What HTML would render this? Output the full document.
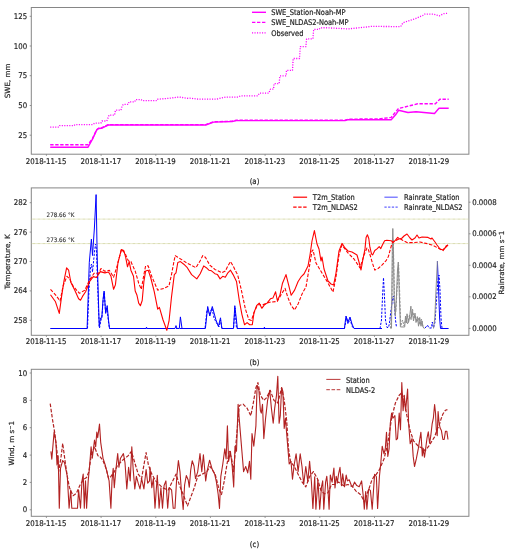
<!DOCTYPE html><html><head><meta charset="utf-8"><style>html,body{margin:0;padding:0;background:#fff;}svg{display:block;}</style></head><body>
<svg width="509" height="550" viewBox="0 0 509 550" style="font-family:'DejaVu Sans','Liberation Sans',sans-serif">
<rect width="509" height="550" fill="#fff"/>
<rect x="31.3" y="7.5" width="437.6" height="146.7" fill="none" stroke="#868686" stroke-width="1.0"/>
<line x1="46.4" y1="154.2" x2="46.4" y2="155.8" stroke="#868686" stroke-width="0.9"/>
<text transform="translate(46.10 163.70) scale(1 1.120)" font-size="7" text-anchor="middle" fill="#262626" stroke="#262626" stroke-width="0.18" >2018-11-15</text>
<line x1="101.1" y1="154.2" x2="101.1" y2="155.8" stroke="#868686" stroke-width="0.9"/>
<text transform="translate(100.78 163.70) scale(1 1.120)" font-size="7" text-anchor="middle" fill="#262626" stroke="#262626" stroke-width="0.18" >2018-11-17</text>
<line x1="155.8" y1="154.2" x2="155.8" y2="155.8" stroke="#868686" stroke-width="0.9"/>
<text transform="translate(155.46 163.70) scale(1 1.120)" font-size="7" text-anchor="middle" fill="#262626" stroke="#262626" stroke-width="0.18" >2018-11-19</text>
<line x1="210.4" y1="154.2" x2="210.4" y2="155.8" stroke="#868686" stroke-width="0.9"/>
<text transform="translate(210.14 163.70) scale(1 1.120)" font-size="7" text-anchor="middle" fill="#262626" stroke="#262626" stroke-width="0.18" >2018-11-21</text>
<line x1="265.1" y1="154.2" x2="265.1" y2="155.8" stroke="#868686" stroke-width="0.9"/>
<text transform="translate(264.82 163.70) scale(1 1.120)" font-size="7" text-anchor="middle" fill="#262626" stroke="#262626" stroke-width="0.18" >2018-11-23</text>
<line x1="319.8" y1="154.2" x2="319.8" y2="155.8" stroke="#868686" stroke-width="0.9"/>
<text transform="translate(319.50 163.70) scale(1 1.120)" font-size="7" text-anchor="middle" fill="#262626" stroke="#262626" stroke-width="0.18" >2018-11-25</text>
<line x1="374.5" y1="154.2" x2="374.5" y2="155.8" stroke="#868686" stroke-width="0.9"/>
<text transform="translate(374.18 163.70) scale(1 1.120)" font-size="7" text-anchor="middle" fill="#262626" stroke="#262626" stroke-width="0.18" >2018-11-27</text>
<line x1="429.2" y1="154.2" x2="429.2" y2="155.8" stroke="#868686" stroke-width="0.9"/>
<text transform="translate(428.86 163.70) scale(1 1.120)" font-size="7" text-anchor="middle" fill="#262626" stroke="#262626" stroke-width="0.18" >2018-11-29</text>
<line x1="29.7" y1="135.2" x2="31.3" y2="135.2" stroke="#868686" stroke-width="0.9"/>
<text transform="translate(27.10 137.70) scale(1 1.120)" font-size="7" text-anchor="end" fill="#262626" stroke="#262626" stroke-width="0.18" >25</text>
<line x1="29.7" y1="105.5" x2="31.3" y2="105.5" stroke="#868686" stroke-width="0.9"/>
<text transform="translate(27.10 107.97) scale(1 1.120)" font-size="7" text-anchor="end" fill="#262626" stroke="#262626" stroke-width="0.18" >50</text>
<line x1="29.7" y1="75.7" x2="31.3" y2="75.7" stroke="#868686" stroke-width="0.9"/>
<text transform="translate(27.10 78.25) scale(1 1.120)" font-size="7" text-anchor="end" fill="#262626" stroke="#262626" stroke-width="0.18" >75</text>
<line x1="29.7" y1="46.0" x2="31.3" y2="46.0" stroke="#868686" stroke-width="0.9"/>
<text transform="translate(27.10 48.52) scale(1 1.120)" font-size="7" text-anchor="end" fill="#262626" stroke="#262626" stroke-width="0.18" >100</text>
<line x1="29.7" y1="16.3" x2="31.3" y2="16.3" stroke="#868686" stroke-width="0.9"/>
<text transform="translate(27.10 18.80) scale(1 1.120)" font-size="7" text-anchor="end" fill="#262626" stroke="#262626" stroke-width="0.18" >125</text>
<text transform="translate(9.50 80.80) rotate(-90)" font-size="7.2" text-anchor="middle" fill="#262626" stroke="#262626" stroke-width="0.18">SWE, mm</text>
<polyline points="50.2,127.1 59.0,127.1 59.6,125.7 73.9,125.7 75.0,124.6 93.1,124.6 94.5,123.2 100.9,123.2 101.9,121.0 106.8,121.0 107.5,119.0 108.5,117.0 109.0,115.1 114.6,115.1 115.0,112.6 115.5,110.2 121.0,110.2 121.5,108.2 122.2,105.8 123.5,104.3 128.4,104.3 129.0,101.8 134.8,101.8 135.5,99.7 141.2,99.7 142.0,100.6 156.3,100.6 156.8,99.3 168.6,98.3 179.4,97.0 186.3,98.3 190.0,98.2 197.9,99.1 216.5,99.1 225.4,97.2 237.2,97.2 241.1,95.8 257.9,95.8 259.4,93.1 268.9,93.1 270.4,89.2 273.6,89.2 274.0,83.7 279.1,83.7 279.9,75.8 286.2,75.8 286.5,70.3 292.5,70.3 293.2,58.5 299.5,58.5 300.3,46.7 305.8,46.7 306.6,38.9 312.9,38.9 313.7,29.4 319.2,29.4 320.0,27.9 325.5,27.7 348.2,28.9 366.4,27.0 370.9,26.4 400.7,26.6 403.0,22.7 408.6,20.9 415.5,18.6 423.4,15.2 424.5,14.1 433.6,14.1 439.3,15.9 443.9,13.6 448.4,13.2" fill="none" stroke="#ff00ff" stroke-width="1.3" stroke-dasharray="1.1 1.4" stroke-linejoin="round" />
<polyline points="50.2,147.3 87.9,147.3 92.5,139.1 96.6,130.1 98.6,128.5 101.4,128.3 105.5,126.3 108.3,125.0 150.0,125.0 205.7,125.0 213.6,122.1 232.2,121.5 236.2,120.6 345.0,120.6 348.2,119.6 391.2,119.7 395.6,114.8 398.6,110.3 408.0,112.5 416.0,111.7 434.5,113.5 439.0,108.2 448.7,108.2" fill="none" stroke="#ff00ff" stroke-width="1.4" stroke-linejoin="round" />
<polyline points="50.2,144.8 87.9,144.8 92.5,138.5 96.6,129.8 98.6,128.2 101.4,128.0 105.5,126.0 108.3,124.6 150.0,124.6 205.7,124.6 213.6,121.8 232.2,121.2 236.2,120.2 345.0,120.2 348.2,119.2 380.6,118.8 391.2,117.4 398.3,108.6 417.7,103.8 435.4,103.8 439.8,99.2 448.7,99.2" fill="none" stroke="#ff00ff" stroke-width="1.4" stroke-dasharray="3.4 1.6" stroke-linejoin="round" />
<polyline points="252.0,12.3 266.0,12.3" fill="none" stroke="#ff00ff" stroke-width="1.4" stroke-linejoin="round" />
<text transform="translate(271.20 15.30) scale(1 1.170)" font-size="6.7" text-anchor="start" fill="#262626" stroke="#262626" stroke-width="0.18" >SWE_Station-Noah-MP</text>
<polyline points="252.0,22.4 266.0,22.4" fill="none" stroke="#ff00ff" stroke-width="1.4" stroke-dasharray="3.4 1.6" stroke-linejoin="round" />
<text transform="translate(271.20 25.45) scale(1 1.170)" font-size="6.7" text-anchor="start" fill="#262626" stroke="#262626" stroke-width="0.18" >SWE_NLDAS2-Noah-MP</text>
<polyline points="252.0,32.9 266.0,32.9" fill="none" stroke="#ff00ff" stroke-width="1.3" stroke-dasharray="1.1 1.4" stroke-linejoin="round" />
<text transform="translate(271.20 35.90) scale(1 1.170)" font-size="6.7" text-anchor="start" fill="#262626" stroke="#262626" stroke-width="0.18" >Observed</text>
<text transform="translate(254.50 183.70) scale(1 1.120)" font-size="7" text-anchor="middle" fill="#262626" stroke="#262626" stroke-width="0.18" >(a)</text>
<rect x="31.3" y="187.9" width="437.6" height="147.4" fill="none" stroke="#868686" stroke-width="1.0"/>
<line x1="46.4" y1="335.3" x2="46.4" y2="336.9" stroke="#868686" stroke-width="0.9"/>
<text transform="translate(46.10 344.40) scale(1 1.120)" font-size="7" text-anchor="middle" fill="#262626" stroke="#262626" stroke-width="0.18" >2018-11-15</text>
<line x1="101.1" y1="335.3" x2="101.1" y2="336.9" stroke="#868686" stroke-width="0.9"/>
<text transform="translate(100.78 344.40) scale(1 1.120)" font-size="7" text-anchor="middle" fill="#262626" stroke="#262626" stroke-width="0.18" >2018-11-17</text>
<line x1="155.8" y1="335.3" x2="155.8" y2="336.9" stroke="#868686" stroke-width="0.9"/>
<text transform="translate(155.46 344.40) scale(1 1.120)" font-size="7" text-anchor="middle" fill="#262626" stroke="#262626" stroke-width="0.18" >2018-11-19</text>
<line x1="210.4" y1="335.3" x2="210.4" y2="336.9" stroke="#868686" stroke-width="0.9"/>
<text transform="translate(210.14 344.40) scale(1 1.120)" font-size="7" text-anchor="middle" fill="#262626" stroke="#262626" stroke-width="0.18" >2018-11-21</text>
<line x1="265.1" y1="335.3" x2="265.1" y2="336.9" stroke="#868686" stroke-width="0.9"/>
<text transform="translate(264.82 344.40) scale(1 1.120)" font-size="7" text-anchor="middle" fill="#262626" stroke="#262626" stroke-width="0.18" >2018-11-23</text>
<line x1="319.8" y1="335.3" x2="319.8" y2="336.9" stroke="#868686" stroke-width="0.9"/>
<text transform="translate(319.50 344.40) scale(1 1.120)" font-size="7" text-anchor="middle" fill="#262626" stroke="#262626" stroke-width="0.18" >2018-11-25</text>
<line x1="374.5" y1="335.3" x2="374.5" y2="336.9" stroke="#868686" stroke-width="0.9"/>
<text transform="translate(374.18 344.40) scale(1 1.120)" font-size="7" text-anchor="middle" fill="#262626" stroke="#262626" stroke-width="0.18" >2018-11-27</text>
<line x1="429.2" y1="335.3" x2="429.2" y2="336.9" stroke="#868686" stroke-width="0.9"/>
<text transform="translate(428.86 344.40) scale(1 1.120)" font-size="7" text-anchor="middle" fill="#262626" stroke="#262626" stroke-width="0.18" >2018-11-29</text>
<line x1="29.7" y1="320.3" x2="31.3" y2="320.3" stroke="#868686" stroke-width="0.9"/>
<text transform="translate(27.10 322.80) scale(1 1.120)" font-size="7" text-anchor="end" fill="#262626" stroke="#262626" stroke-width="0.18" >258</text>
<line x1="29.7" y1="290.9" x2="31.3" y2="290.9" stroke="#868686" stroke-width="0.9"/>
<text transform="translate(27.10 293.40) scale(1 1.120)" font-size="7" text-anchor="end" fill="#262626" stroke="#262626" stroke-width="0.18" >264</text>
<line x1="29.7" y1="261.5" x2="31.3" y2="261.5" stroke="#868686" stroke-width="0.9"/>
<text transform="translate(27.10 264.00) scale(1 1.120)" font-size="7" text-anchor="end" fill="#262626" stroke="#262626" stroke-width="0.18" >270</text>
<line x1="29.7" y1="232.1" x2="31.3" y2="232.1" stroke="#868686" stroke-width="0.9"/>
<text transform="translate(27.10 234.60) scale(1 1.120)" font-size="7" text-anchor="end" fill="#262626" stroke="#262626" stroke-width="0.18" >276</text>
<line x1="29.7" y1="202.7" x2="31.3" y2="202.7" stroke="#868686" stroke-width="0.9"/>
<text transform="translate(27.10 205.20) scale(1 1.120)" font-size="7" text-anchor="end" fill="#262626" stroke="#262626" stroke-width="0.18" >282</text>
<line x1="468.9" y1="328.4" x2="470.5" y2="328.4" stroke="#868686" stroke-width="0.9"/>
<text transform="translate(472.20 330.90) scale(1 1.120)" font-size="7" text-anchor="start" fill="#262626" stroke="#262626" stroke-width="0.18" >0.0000</text>
<line x1="468.9" y1="296.8" x2="470.5" y2="296.8" stroke="#868686" stroke-width="0.9"/>
<text transform="translate(472.20 299.35) scale(1 1.120)" font-size="7" text-anchor="start" fill="#262626" stroke="#262626" stroke-width="0.18" >0.0002</text>
<line x1="468.9" y1="265.3" x2="470.5" y2="265.3" stroke="#868686" stroke-width="0.9"/>
<text transform="translate(472.20 267.80) scale(1 1.120)" font-size="7" text-anchor="start" fill="#262626" stroke="#262626" stroke-width="0.18" >0.0004</text>
<line x1="468.9" y1="233.8" x2="470.5" y2="233.8" stroke="#868686" stroke-width="0.9"/>
<text transform="translate(472.20 236.25) scale(1 1.120)" font-size="7" text-anchor="start" fill="#262626" stroke="#262626" stroke-width="0.18" >0.0006</text>
<line x1="468.9" y1="202.2" x2="470.5" y2="202.2" stroke="#868686" stroke-width="0.9"/>
<text transform="translate(472.20 204.70) scale(1 1.120)" font-size="7" text-anchor="start" fill="#262626" stroke="#262626" stroke-width="0.18" >0.0008</text>
<text transform="translate(9.50 261.80) rotate(-90)" font-size="7.2" text-anchor="middle" fill="#262626" stroke="#262626" stroke-width="0.18">Temperature, K</text>
<text transform="translate(504.4 262.7) rotate(-90)" font-size="7.2" text-anchor="middle" fill="#262626" stroke="#262626" stroke-width="0.18">Rainrate, mm s<tspan font-size="5" dy="-2.4">&#8722;</tspan><tspan font-size="7" dy="2.4">1</tspan></text>
<line x1="31.8" y1="219.1" x2="468.4" y2="219.1" stroke="#c8cc8c" stroke-width="1.0" stroke-dasharray="0.7 0.55"/>
<text transform="translate(46.6 217.17) scale(1 1.1)" font-size="5.6" fill="#262626" stroke="#262626" stroke-width="0.08">278.66 °K</text>
<line x1="31.8" y1="243.6" x2="468.4" y2="243.6" stroke="#c8cc8c" stroke-width="1.0" stroke-dasharray="0.7 0.55"/>
<text transform="translate(46.6 241.67) scale(1 1.1)" font-size="5.6" fill="#262626" stroke="#262626" stroke-width="0.08">273.66 °K</text>
<polyline points="50.5,328.5 87.1,328.5 89.3,262.3 91.4,239.1 92.5,255.5 94.4,228.0 96.1,194.6 97.3,262.0 98.7,308.9 99.2,326.4 100.5,318.0 101.8,318.0 103.0,300.0 104.1,291.0 105.7,313.4 107.2,305.6 108.3,318.0 109.5,328.5 146.0,328.5 146.5,327.2 147.0,328.5 175.0,328.5 176.0,325.6 177.0,328.5 179.3,328.5 180.4,316.9 182.0,328.5 205.4,328.5 207.7,306.5 209.8,316.0 212.3,306.5 215.8,319.5 218.4,326.4 220.5,317.8 221.8,328.5 233.5,328.5 234.8,305.7 237.4,328.5 264.0,328.5 264.4,327.2 265.0,328.5 344.4,328.5 346.0,316.0 348.0,322.0 350.0,317.0 352.0,324.0 354.0,328.5 382.0,328.5" fill="none" stroke="#0000ff" stroke-width="1.0" stroke-linejoin="round" />
<polyline points="437.4,261.2 438.6,290.0 439.6,318.0 440.5,328.5 448.6,328.5" fill="none" stroke="#0000ff" stroke-width="1.0" stroke-linejoin="round" />
<polyline points="50.5,328.5 87.5,328.5 89.0,290.0 90.5,268.0 91.5,264.0 92.5,272.0 93.5,262.0 94.5,252.0 95.5,244.0 96.5,250.0 97.3,275.0 98.5,310.0 99.5,328.0 101.0,320.0 102.0,316.0 103.5,296.0 104.3,292.0 105.5,312.0 107.0,308.0 108.5,322.0 109.5,328.5 180.0,328.5 205.0,328.5 207.0,310.0 209.5,314.0 212.0,308.0 214.0,318.0 216.0,322.0 219.0,327.0 220.5,320.0 222.0,328.5 233.5,328.5 235.0,308.0 236.5,328.5 344.5,328.5 346.5,318.0 348.0,324.0 350.0,319.0 352.0,326.0 353.5,328.5 380.0,328.5 381.5,320.0 382.6,295.0 383.5,277.7 384.4,295.0 385.5,320.0 387.0,327.5 388.6,327.5 389.6,322.0 390.8,311.8 392.7,297.6 393.5,296.0 394.5,305.0 395.5,320.0 396.5,327.5" fill="none" stroke="#0000ff" stroke-width="1.0" stroke-dasharray="2.3 1.4" stroke-linejoin="round" />
<polyline points="425.0,328.0 427.5,325.2 429.0,328.0 431.5,328.0 432.3,322.0 433.5,328.0 435.0,322.0 436.5,300.0 437.8,282.0 439.0,275.0 440.0,290.0 441.0,318.0 442.0,328.5 448.0,328.5" fill="none" stroke="#0000ff" stroke-width="1.0" stroke-dasharray="2.3 1.4" stroke-linejoin="round" />
<polyline points="391.5,328.5 392.3,250.0 392.8,228.5 393.4,250.0 394.2,300.0 395.3,316.0 396.5,295.0 397.5,270.0 398.3,262.0 399.0,285.0 400.4,326.9 404.7,327.0 405.5,316.0 406.3,323.0 407.0,313.8 408.5,322.5 409.5,318.0 410.9,306.2 411.5,317.5 412.5,311.6 413.5,321.0 415.0,313.1 416.0,322.5 417.5,316.7 418.5,326.2 419.7,317.5 421.0,326.2 422.0,321.0 423.0,326.9 424.1,328.5" fill="none" stroke="#8c8c8c" stroke-width="1.0" stroke-linejoin="round" />
<polyline points="433.5,328.5 434.8,318.0 436.0,290.0 437.4,261.2" fill="none" stroke="#8c8c8c" stroke-width="1.0" stroke-linejoin="round" />
<polyline points="390.5,328.5 392.0,300.0 392.6,240.0 393.3,240.0 394.5,300.0 395.8,312.0 397.0,290.0 398.6,265.0 399.6,290.0 400.7,326.0 402.5,320.0 404.0,326.0 406.0,318.0 407.5,324.0 409.5,315.0 411.0,320.0 412.5,309.0 414.0,318.0 415.5,316.0 417.0,322.0 418.5,318.0 420.0,325.0 421.5,319.0 423.0,327.0 424.5,328.5" fill="none" stroke="#8c8c8c" stroke-width="1.0" stroke-dasharray="2.3 1.4" stroke-linejoin="round" />
<polyline points="50.5,294.8 55.5,301.8 59.3,313.4 61.6,296.4 64.0,280.9 66.6,267.8 68.6,270.1 70.9,282.5 74.8,290.2 78.6,298.7 80.5,300.2 82.5,296.4 85.6,291.7 89.5,281.7 93.3,276.6 96.4,277.5 100.3,271.6 104.9,272.9 108.5,272.0 111.0,276.3 113.6,289.3 115.4,284.9 118.0,262.5 121.4,249.5 123.7,250.4 125.7,257.3 127.5,266.8 129.2,261.6 130.9,270.2 133.5,276.3 135.2,291.0 137.0,295.3 138.7,303.1 140.4,305.7 142.2,300.5 143.9,281.5 145.6,271.1 148.2,270.2 150.8,278.0 154.3,291.8 157.7,309.1 159.4,307.4 162.9,319.5 166.8,330.3 169.0,321.2 171.5,297.0 174.3,274.6 176.0,272.8 177.8,262.5 180.4,261.6 183.8,264.2 187.3,267.7 191.6,274.6 196.8,278.9 200.2,273.7 203.7,265.9 206.3,267.7 208.9,270.2 211.5,270.8 214.9,273.7 217.5,274.6 220.1,278.9 222.7,276.3 225.3,277.2 227.9,272.8 230.5,270.2 233.1,274.6 236.5,281.5 239.3,300.5 241.9,314.3 244.5,324.7 247.1,322.6 249.7,324.7 252.3,324.7 254.0,312.6 256.6,305.7 259.2,303.1 261.8,308.3 264.4,304.8 267.0,303.1 270.4,298.8 273.0,297.9 275.6,291.8 277.3,300.5 279.9,295.3 282.5,283.2 286.0,274.6 288.6,284.9 291.2,295.3 294.6,290.1 298.1,281.5 301.5,276.3 304.0,274.0 308.0,266.0 310.0,255.0 312.0,241.0 314.4,230.6 317.0,244.0 319.0,249.0 321.0,261.0 322.0,257.0 324.0,269.0 328.0,281.0 331.0,284.0 333.6,285.0 336.0,273.0 339.0,251.0 342.0,243.4 345.0,248.0 348.0,251.0 352.0,252.0 357.0,255.0 359.0,262.0 361.0,270.0 363.0,259.0 365.0,248.9 366.1,237.4 367.4,234.7 368.8,238.5 369.9,247.2 371.5,253.8 372.6,254.9 374.8,250.5 377.0,248.9 379.2,246.7 380.8,248.6 382.4,245.1 384.6,240.7 386.8,240.2 391.2,240.7 393.3,242.3 395.5,240.2 397.7,237.4 399.9,239.1 402.1,238.0 404.0,236.0 407.0,234.0 410.0,238.0 412.0,240.0 415.0,238.0 417.0,235.0 419.0,238.0 422.0,237.0 428.0,237.4 431.0,239.0 432.0,238.0 435.0,242.0 437.0,245.0 440.0,249.0 443.0,250.0 445.0,248.0 448.0,245.0" fill="none" stroke="#ff0000" stroke-width="1.1" stroke-linejoin="round" />
<polyline points="50.5,289.4 55.5,294.8 60.1,301.0 63.2,285.5 67.0,276.3 69.4,278.6 73.2,286.3 79.4,293.3 84.8,290.2 89.5,280.1 94.1,273.2 98.7,273.2 101.0,268.5 104.9,271.3 109.3,270.2 113.6,277.2 117.1,265.9 121.4,249.5 124.9,253.0 128.3,260.7 130.9,261.6 135.2,271.1 138.7,283.2 141.3,289.3 143.9,274.6 145.6,265.9 148.2,265.9 151.7,276.3 157.7,290.1 163.8,288.4 169.0,285.8 171.5,274.6 174.1,260.7 175.2,255.6 177.8,257.3 182.1,259.9 187.3,263.3 195.9,267.7 200.2,260.7 202.8,255.6 205.4,257.3 209.8,265.1 214.9,269.4 221.8,272.8 225.3,271.1 227.9,265.9 230.5,261.6 233.1,265.9 236.5,272.8 237.6,274.6 241.0,288.4 245.4,309.1 248.8,319.5 251.4,320.4 254.0,312.6 257.5,304.8 262.7,304.8 269.6,302.2 277.3,301.4 281.7,293.6 285.1,288.4 287.7,297.0 291.2,305.7 294.6,310.0 298.1,303.9 301.5,295.3 303.0,292.0 306.0,287.0 309.0,269.0 312.0,251.0 313.0,250.0 316.0,263.0 322.0,273.0 328.0,283.0 333.0,292.0 336.0,277.0 339.0,255.0 342.0,245.0 348.0,253.0 354.0,259.0 360.0,268.0 364.0,255.0 367.0,248.0 368.3,249.4 370.4,256.0 372.6,263.6 374.8,270.1 378.1,268.5 382.4,264.7 386.3,260.3 388.4,256.5 390.6,248.3 392.2,242.9 395.5,240.7 399.9,238.5 402.6,240.2 407.0,242.6 414.0,242.6 420.0,242.0 426.0,243.4 432.0,245.0 438.0,248.0 443.0,250.6 446.0,246.0 448.0,245.0" fill="none" stroke="#ff0000" stroke-width="1.1" stroke-dasharray="3.4 1.6" stroke-linejoin="round" />
<polyline points="293.2,197.2 307.1,197.2" fill="none" stroke="#ff0000" stroke-width="1.2" stroke-linejoin="round" />
<polyline points="293.2,207.1 307.1,207.1" fill="none" stroke="#ff0000" stroke-width="1.2" stroke-dasharray="3.4 1.6" stroke-linejoin="round" />
<text transform="translate(312.80 200.10) scale(1 1.170)" font-size="6.7" text-anchor="start" fill="#262626" stroke="#262626" stroke-width="0.18" >T2m_Station</text>
<text transform="translate(312.80 210.00) scale(1 1.170)" font-size="6.7" text-anchor="start" fill="#262626" stroke="#262626" stroke-width="0.18" >T2m_NLDAS2</text>
<polyline points="384.4,197.2 397.7,197.2" fill="none" stroke="#6464ff" stroke-width="1.2" stroke-linejoin="round" />
<polyline points="384.4,207.1 397.7,207.1" fill="none" stroke="#6464ff" stroke-width="1.2" stroke-dasharray="2.3 1.4" stroke-linejoin="round" />
<text transform="translate(404.10 200.10) scale(1 1.170)" font-size="6.7" text-anchor="start" fill="#262626" stroke="#262626" stroke-width="0.18" >Rainrate_Station</text>
<text transform="translate(404.10 210.00) scale(1 1.170)" font-size="6.7" text-anchor="start" fill="#262626" stroke="#262626" stroke-width="0.18" >Rainrate_NLDAS2</text>
<text transform="translate(254.50 365.00) scale(1 1.120)" font-size="7" text-anchor="middle" fill="#262626" stroke="#262626" stroke-width="0.18" >(b)</text>
<rect x="31.3" y="369.3" width="437.6" height="147.0" fill="none" stroke="#868686" stroke-width="1.0"/>
<line x1="46.4" y1="516.3" x2="46.4" y2="517.9" stroke="#868686" stroke-width="0.9"/>
<text transform="translate(46.10 525.70) scale(1 1.120)" font-size="7" text-anchor="middle" fill="#262626" stroke="#262626" stroke-width="0.18" >2018-11-15</text>
<line x1="101.1" y1="516.3" x2="101.1" y2="517.9" stroke="#868686" stroke-width="0.9"/>
<text transform="translate(100.78 525.70) scale(1 1.120)" font-size="7" text-anchor="middle" fill="#262626" stroke="#262626" stroke-width="0.18" >2018-11-17</text>
<line x1="155.8" y1="516.3" x2="155.8" y2="517.9" stroke="#868686" stroke-width="0.9"/>
<text transform="translate(155.46 525.70) scale(1 1.120)" font-size="7" text-anchor="middle" fill="#262626" stroke="#262626" stroke-width="0.18" >2018-11-19</text>
<line x1="210.4" y1="516.3" x2="210.4" y2="517.9" stroke="#868686" stroke-width="0.9"/>
<text transform="translate(210.14 525.70) scale(1 1.120)" font-size="7" text-anchor="middle" fill="#262626" stroke="#262626" stroke-width="0.18" >2018-11-21</text>
<line x1="265.1" y1="516.3" x2="265.1" y2="517.9" stroke="#868686" stroke-width="0.9"/>
<text transform="translate(264.82 525.70) scale(1 1.120)" font-size="7" text-anchor="middle" fill="#262626" stroke="#262626" stroke-width="0.18" >2018-11-23</text>
<line x1="319.8" y1="516.3" x2="319.8" y2="517.9" stroke="#868686" stroke-width="0.9"/>
<text transform="translate(319.50 525.70) scale(1 1.120)" font-size="7" text-anchor="middle" fill="#262626" stroke="#262626" stroke-width="0.18" >2018-11-25</text>
<line x1="374.5" y1="516.3" x2="374.5" y2="517.9" stroke="#868686" stroke-width="0.9"/>
<text transform="translate(374.18 525.70) scale(1 1.120)" font-size="7" text-anchor="middle" fill="#262626" stroke="#262626" stroke-width="0.18" >2018-11-27</text>
<line x1="429.2" y1="516.3" x2="429.2" y2="517.9" stroke="#868686" stroke-width="0.9"/>
<text transform="translate(428.86 525.70) scale(1 1.120)" font-size="7" text-anchor="middle" fill="#262626" stroke="#262626" stroke-width="0.18" >2018-11-29</text>
<line x1="29.7" y1="509.8" x2="31.3" y2="509.8" stroke="#868686" stroke-width="0.9"/>
<text transform="translate(27.10 512.30) scale(1 1.120)" font-size="7" text-anchor="end" fill="#262626" stroke="#262626" stroke-width="0.18" >0</text>
<line x1="29.7" y1="482.4" x2="31.3" y2="482.4" stroke="#868686" stroke-width="0.9"/>
<text transform="translate(27.10 484.94) scale(1 1.120)" font-size="7" text-anchor="end" fill="#262626" stroke="#262626" stroke-width="0.18" >2</text>
<line x1="29.7" y1="455.1" x2="31.3" y2="455.1" stroke="#868686" stroke-width="0.9"/>
<text transform="translate(27.10 457.58) scale(1 1.120)" font-size="7" text-anchor="end" fill="#262626" stroke="#262626" stroke-width="0.18" >4</text>
<line x1="29.7" y1="427.7" x2="31.3" y2="427.7" stroke="#868686" stroke-width="0.9"/>
<text transform="translate(27.10 430.22) scale(1 1.120)" font-size="7" text-anchor="end" fill="#262626" stroke="#262626" stroke-width="0.18" >6</text>
<line x1="29.7" y1="400.4" x2="31.3" y2="400.4" stroke="#868686" stroke-width="0.9"/>
<text transform="translate(27.10 402.86) scale(1 1.120)" font-size="7" text-anchor="end" fill="#262626" stroke="#262626" stroke-width="0.18" >8</text>
<line x1="29.7" y1="373.0" x2="31.3" y2="373.0" stroke="#868686" stroke-width="0.9"/>
<text transform="translate(27.10 375.50) scale(1 1.120)" font-size="7" text-anchor="end" fill="#262626" stroke="#262626" stroke-width="0.18" >10</text>
<text transform="translate(13.9 443.3) rotate(-90)" font-size="7.2" text-anchor="middle" fill="#262626" stroke="#262626" stroke-width="0.18">Wind, m s<tspan font-size="5" dy="-2.4">&#8722;</tspan><tspan font-size="7" dy="2.4">1</tspan></text>
<polyline points="50.9,451.4 51.8,459.3 54.1,432.0 55.9,442.3 57.0,465.0 58.2,455.9 59.3,508.2 60.5,468.4 62.7,460.5 64.5,462.7 67.3,476.4 69.1,508.2 70.7,490.0 71.8,508.2 77.5,508.2 78.6,490.0 80.5,508.2 82.0,480.9 83.2,474.1 84.3,508.2 85.5,480.9 86.6,508.2 88.2,480.9 89.5,467.3 91.1,446.8 92.3,458.2 94.5,440.0 95.7,446.8 96.8,432.0 97.7,437.7 99.5,424.1 100.7,442.3 103.0,458.2 105.2,465.0 107.5,474.1 109.1,480.9 110.9,508.2 112.0,480.9 113.2,468.4 114.3,487.7 115.9,469.5 117.7,453.6 118.9,467.3 120.5,458.2 123.4,453.6 125.0,462.7 126.8,488.9 128.6,467.3 130.2,480.9 131.8,446.8 133.2,469.5 134.8,488.9 136.4,476.4 138.2,483.2 140.0,488.9 141.6,478.6 143.9,488.9 146.1,469.5 147.7,483.2 149.5,480.9 150.0,467.3 151.8,487.7 153.4,478.6 155.0,508.2 157.3,475.2 159.1,508.2 160.9,487.7 162.5,508.2 164.1,485.5 165.9,480.9 167.7,508.2 169.3,487.7 171.6,490.0 173.2,508.2 175.0,508.2 176.8,476.4 178.4,460.5 180.0,471.8 181.3,489.6 183.2,509.5 184.6,485.0 186.3,475.5 188.2,480.0 189.3,487.3 190.7,470.0 192.2,460.8 194.0,466.0 195.5,478.6 197.7,471.8 200.0,453.6 201.8,471.8 203.4,454.8 205.7,480.9 207.0,471.6 209.6,460.2 212.1,469.1 214.7,474.2 216.4,481.8 218.2,494.5 219.5,508.5 220.8,476.7 222.8,464.0 224.8,448.7 226.1,458.9 227.4,425.9 228.6,461.4 230.4,451.3 232.2,466.5 233.7,486.9 235.0,446.2 236.5,451.3 238.1,404.2 239.8,425.9 241.9,451.3 243.6,471.6 245.7,466.5 247.7,472.9 249.5,461.4 250.8,479.2 252.0,433.5 253.8,446.2 255.9,425.9 257.1,385.2 258.9,390.3 260.4,410.6 261.3,413.1 262.5,404.2 263.8,438.6 265.6,418.2 267.6,400.4 269.7,390.3 271.4,408.1 273.2,423.3 274.7,408.1 276.5,395.3 277.8,376.3 279.1,423.3 280.3,415.7 281.6,387.7 282.9,391.5 284.2,428.4 285.4,418.2 287.5,443.6 289.2,464.0 291.0,461.4 292.5,479.2 294.3,464.0 296.1,453.8 298.1,471.6 300.2,453.8 302.0,466.5 303.7,484.3 305.8,466.5 307.8,481.8 309.6,461.4 311.4,481.8 312.9,508.5 314.7,476.7 315.9,509.2 317.9,479.8 319.7,509.2 321.5,486.8 322.7,480.9 323.8,509.2 325.6,482.1 326.8,476.2 328.0,490.4 329.1,509.2 330.3,475.0 332.1,482.1 333.9,468.0 335.0,488.0 336.2,476.2 337.4,482.1 338.6,473.9 340.0,467.4 341.5,485.6 342.7,473.9 344.5,486.8 346.2,475.0 347.4,480.9 349.2,479.8 351.0,484.5 352.7,486.8 354.5,482.1 356.8,485.6 359.2,486.8 361.6,480.9 363.3,496.3 364.3,509.2 365.7,491.5 366.9,509.2 368.6,489.2 370.4,490.4 372.2,509.2 373.9,484.5 374.6,474.2 376.4,476.7 377.6,508.5 379.4,476.7 380.7,464.0 382.2,446.2 384.0,453.8 385.3,448.7 386.5,432.2 387.8,456.4 389.1,448.7 390.3,423.3 391.6,413.1 392.9,418.2 394.9,415.7 396.2,439.8 397.5,438.6 399.2,413.1 400.5,429.7 401.8,382.6 403.1,410.6 404.3,395.3 405.6,410.6 407.6,389.0 408.6,423.3 410.2,443.6 412.0,438.6 413.2,456.4 414.5,466.5 416.3,458.9 418.3,448.7 420.9,432.2 421.3,438.2 422.3,456.0 423.2,448.4 424.5,457.3 425.7,448.4 427.0,438.2 428.3,431.8 429.6,443.3 430.8,435.7 432.1,424.2 433.4,417.8 434.6,404.5 435.5,412.7 436.3,429.3 437.2,435.7 438.1,411.5 439.1,422.9 440.1,428.0 441.4,430.6 442.9,439.5 444.2,439.5 445.5,431.2 446.8,431.2 448.0,439.5" fill="none" stroke="#b22222" stroke-width="1.1" stroke-linejoin="round" />
<polyline points="50.2,403.6 52.5,419.5 54.8,433.2 57.0,451.4 58.6,471.8 60.9,458.2 62.7,443.4 65.0,460.5 67.3,476.4 69.5,487.7 73.0,495.7 76.4,493.4 79.8,485.5 83.2,479.8 86.6,477.5 88.9,471.8 91.1,455.9 94.5,446.8 98.0,455.9 99.5,455.9 103.0,460.5 106.4,469.5 108.6,478.6 110.9,476.4 114.3,471.8 117.7,465.0 122.3,460.5 128.0,455.9 131.4,451.4 134.8,462.7 138.2,474.1 141.6,478.6 143.9,465.0 146.1,452.5 148.4,465.0 151.8,474.1 155.7,480.9 162.5,487.7 168.2,490.0 172.7,480.9 176.1,474.1 179.5,485.5 184.1,496.8 187.5,505.9 190.9,496.8 194.3,487.7 197.7,476.4 202.3,474.1 206.8,471.8 210.1,466.5 215.2,474.2 219.0,489.4 221.5,494.5 224.1,481.8 226.6,466.5 229.2,451.3 231.7,458.9 233.5,471.6 235.5,448.7 237.5,425.9 239.3,405.5 243.1,404.2 247.0,408.1 250.8,415.7 253.3,403.0 255.9,387.7 257.9,382.6 260.4,395.3 263.8,400.4 266.4,397.9 270.2,390.3 274.0,400.4 277.8,403.0 281.6,387.7 284.2,400.4 286.7,420.8 288.5,448.7 290.5,461.4 294.3,466.5 298.1,474.2 302.0,481.8 305.8,486.9 309.6,476.7 313.4,471.6 317.4,478.6 320.9,490.4 324.4,493.9 328.0,492.7 331.5,484.5 335.0,484.5 338.6,482.1 343.3,485.6 348.0,484.5 352.7,486.8 356.3,491.5 359.8,493.9 362.2,497.4 364.5,502.2 367.5,492.7 369.2,488.0 371.6,480.9 373.8,476.7 376.4,474.2 379.7,469.1 384.0,458.9 387.8,443.6 391.6,418.2 395.4,403.0 399.2,395.3 401.8,392.8 404.3,400.4 406.9,415.7 410.2,430.9 413.7,441.1 418.3,446.2 423.4,448.7 425.1,451.0 428.9,445.9 432.1,440.8 434.6,436.9 437.2,429.3 439.1,425.5 441.0,419.1 442.9,414.0 445.5,410.2 447.4,409.6" fill="none" stroke="#b22222" stroke-width="1.2" stroke-dasharray="3.6 1.6" stroke-linejoin="round" />
<polyline points="326.3,379.4 340.5,379.4" fill="none" stroke="#b22222" stroke-width="0.9" stroke-linejoin="round" />
<polyline points="326.3,389.7 340.5,389.7" fill="none" stroke="#b22222" stroke-width="0.9" stroke-dasharray="3.6 1.6" stroke-linejoin="round" />
<text transform="translate(345.90 382.50) scale(1 1.170)" font-size="6.7" text-anchor="start" fill="#262626" stroke="#262626" stroke-width="0.18" >Station</text>
<text transform="translate(345.90 392.90) scale(1 1.170)" font-size="6.7" text-anchor="start" fill="#262626" stroke="#262626" stroke-width="0.18" >NLDAS-2</text>
<text transform="translate(254.50 546.50) scale(1 1.120)" font-size="7" text-anchor="middle" fill="#262626" stroke="#262626" stroke-width="0.18" >(c)</text>
</svg></body></html>
